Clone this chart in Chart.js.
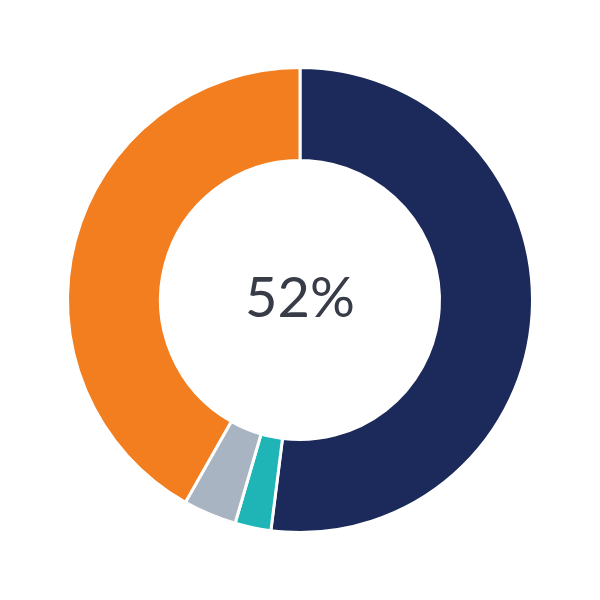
<!DOCTYPE html>
<html>
<head>
<meta charset="utf-8">
<script src="https://cdn.jsdelivr.net/npm/chart.js@4"></script>
<style>
  html, body { margin: 0; padding: 0; background: #fff; }
  #wrap { width: 600px; height: 600px; }
</style>
</head>
<body>
<div id="wrap"><canvas id="donutChart" width="600" height="600"></canvas></div>
<script>
var labels = ['Navy', 'Teal', 'Gray', 'Orange'];
var values = [52, 2.5, 3.7, 41.8];
var colors = ['#1b2a5a', '#1fb5b6', '#a9b4c2', '#f27e20'];
var centerLabel = '52%';

// draws the big percentage in the hole
var centerTextPlugin = {
    id: 'centerText',
    afterDraw: function(chart) {
        var ctx = chart.ctx;
        var meta = chart.getDatasetMeta(0);
        var arc = meta.data[0];
        ctx.save();
        ctx.font = '400 56px Lato, "Open Sans", sans-serif';
        ctx.fillStyle = '#383c47';
        ctx.textAlign = 'center';
        ctx.textBaseline = 'middle';
        ctx.fillText(centerLabel, arc.x, arc.y - 1);
        ctx.restore();
    }
};

window.onload = function() {
    var canvas = document.getElementById('donutChart');
    new Chart(canvas, {
        type: 'doughnut',
        data: {
            labels: labels,
            datasets: [{
                data: values,
                backgroundColor: colors,
                borderColor: '#ffffff',
                borderWidth: 3
            }]
        },
        options: {
            responsive: false,
            animation: false,
            cutout: '60%',
            layout: { padding: 66 },
            plugins: {
                legend: { display: false },
                tooltip: { enabled: false }
            }
        },
        plugins: [centerTextPlugin]
    });
};
</script>
</body>
</html>
